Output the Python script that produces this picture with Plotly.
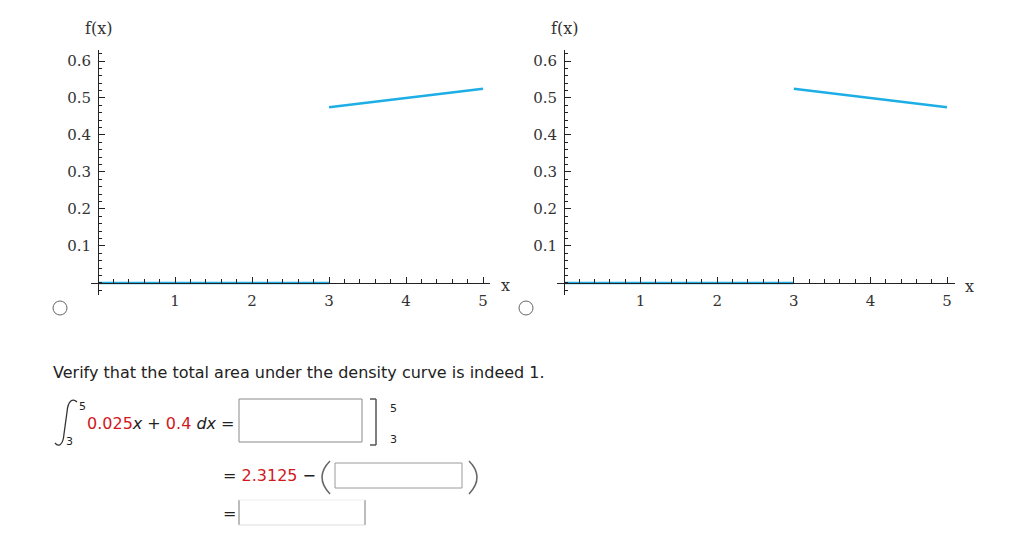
import plotly.graph_objects as go

# ---- data ----
x_zero = [0, 3]
y_zero = [0, 0]
x_density = [3, 5]
left_density = [0.475, 0.525]
right_density = [0.525, 0.475]
x_tick_vals = [1, 2, 3, 4, 5]
x_tick_text = ["1", "2", "3", "4", "5"]
y_tick_vals = [0.1, 0.2, 0.3, 0.4, 0.5, 0.6]
y_tick_text = ["0.1", "0.2", "0.3", "0.4", "0.5", "0.6"]

OFF = 8  # page body margin
W, H = 1024 - 2 * OFF, 543 - 2 * OFF
def px(x):
    return (x - OFF) / W
def py(y):
    return 1 - (y - OFF) / H

LINE = "#1eaee6"
AX = "#222222"
TICKFONT = dict(family="DejaVu Serif", size=15, color="#333333")
RED = "#d0191c"

fig = go.Figure()
for xa, ya, yd in [("x", "y", left_density), ("x2", "y2", right_density)]:
    fig.add_trace(go.Scatter(x=x_zero, y=y_zero, mode="lines", xaxis=xa, yaxis=ya,
                             line=dict(color=LINE, width=2.5), hoverinfo="skip"))
    fig.add_trace(go.Scatter(x=x_density, y=yd, mode="lines", xaxis=xa, yaxis=ya,
                             line=dict(color=LINE, width=2.5), hoverinfo="skip"))

def xaxis_cfg(d0, d1, origin_px, scale):
    return dict(domain=[px(d0), px(d1)],
                range=[(d0 - origin_px) / scale, (d1 - origin_px) / scale],
                anchor="free", position=py(283), showline=True, linecolor=AX, linewidth=1,
                ticks="inside", ticklen=6, tickcolor=AX, tickwidth=1,
                tickmode="array", tickvals=x_tick_vals, ticktext=x_tick_text,
                tickfont=TICKFONT, ticklabelstandoff=4,
                showgrid=False, zeroline=False, fixedrange=True,
                minor=dict(tickmode="linear", tick0=0, dtick=0.2, ticks="inside",
                           ticklen=4, tickcolor=AX, showgrid=False))

def yaxis_cfg(origin_px):
    top, bottom = 49.9, 294.8
    return dict(domain=[py(bottom), py(top)], range=[-0.032, 0.63],
                anchor="free", position=px(origin_px), showline=True, linecolor=AX, linewidth=1,
                ticks="inside", ticklen=6, tickcolor=AX, tickwidth=1,
                tickmode="array", tickvals=y_tick_vals, ticktext=y_tick_text,
                tickfont=TICKFONT, ticklabelstandoff=4,
                showgrid=False, zeroline=False, fixedrange=True,
                minor=dict(tickmode="linear", tick0=0, dtick=0.02, ticks="inside",
                           ticklen=3, tickcolor=AX, showgrid=False))

fig.update_layout(
    width=W, height=H, margin=dict(l=0, r=0, t=0, b=0),
    paper_bgcolor="white", plot_bgcolor="white", showlegend=False,
    xaxis=xaxis_cfg(91, 490, 98, 77.0),
    yaxis=yaxis_cfg(98),
    xaxis2=xaxis_cfg(557, 955, 564, 76.6),
    yaxis2=yaxis_cfg(564),
)

ann = []
def text(x, y, s, size=16, family="DejaVu Sans", color="#222222", xanchor="left"):
    ann.append(dict(x=px(x), y=py(y), xref="paper", yref="paper", text=s, showarrow=False,
                    xanchor=xanchor, yanchor="middle", font=dict(family=family, size=size, color=color)))

# axis titles
text(98, 28, "f(x)", size=16, family="DejaVu Serif", color="#333333", xanchor="center")
text(564, 28, "f(x)", size=16, family="DejaVu Serif", color="#333333", xanchor="center")
text(499, 285, "x", size=16, family="DejaVu Serif", color="#333333")
text(963, 286, "x", size=16, family="DejaVu Serif", color="#333333")

# question text
text(51, 372, "Verify that the total area under the density curve is indeed 1.", size=16)
text(77, 406, "5", size=11)
text(69, 441, "3", size=11, xanchor="center")
text(85, 423, f"<span style='color:{RED}'>0.025</span><i>x</i> + <span style='color:{RED}'>0.4</span> <i>dx</i> =", size=16)
text(388, 408, "5", size=11)
text(388, 439, "3", size=11)
text(221, 475, f"= <span style='color:{RED}'>2.3125</span> −", size=16)
text(221, 513, "=", size=16)
fig.update_layout(annotations=ann)

shapes = []
def rect(x0, y0, x1, y1, color="#8a8a8a"):
    shapes.append(dict(type="rect", xref="paper", yref="paper", x0=px(x0), x1=px(x1),
                       y0=py(y1), y1=py(y0), line=dict(color=color, width=1)))
def seg(x0, y0, x1, y1, color="#777777", width=1):
    shapes.append(dict(type="line", xref="paper", yref="paper", x0=px(x0), x1=px(x1),
                       y0=py(y0), y1=py(y1), line=dict(color=color, width=width)))
def path(d, color="#666666", width=1.5):
    shapes.append(dict(type="path", xref="paper", yref="paper", path=d, line=dict(color=color, width=width)))
def P(x, y):
    return f"{px(x)},{py(y)}"

# radio buttons
for cx in (60, 526):
    shapes.append(dict(type="circle", xref="paper", yref="paper", x0=px(cx - 7), x1=px(cx + 7),
                       y0=py(315), y1=py(301), line=dict(color="#666666", width=1)))

# integral sign
path(f"M {P(77,402)} C {P(73,398)} {P(68,400)} {P(67,412)} L {P(64,434)} C {P(63,446)} {P(58,447)} {P(55,443)}",
     color="#333333", width=1.3)

rect(239, 399, 362, 442)
# bracket
seg(370, 399, 376, 399, "#555555", 1.5)
seg(376, 399, 376, 445, "#555555", 1.5)
seg(370, 445, 376, 445, "#555555", 1.5)

rect(335, 463, 462, 488, "#9a9a9a")
# parentheses
path(f"M {P(330,461)} Q {P(314,477)} {P(330,494)}")
path(f"M {P(469,461)} Q {P(485,477)} {P(469,494)}")

# third box
seg(239, 500, 239, 525, "#7a7a7a")
seg(365, 500, 365, 525, "#7a7a7a")
seg(239, 525, 365, 525, "#dddddd")
seg(239, 500, 365, 500, "#eeeeee")
fig.update_layout(shapes=shapes)

fig.write_html("out.html")
